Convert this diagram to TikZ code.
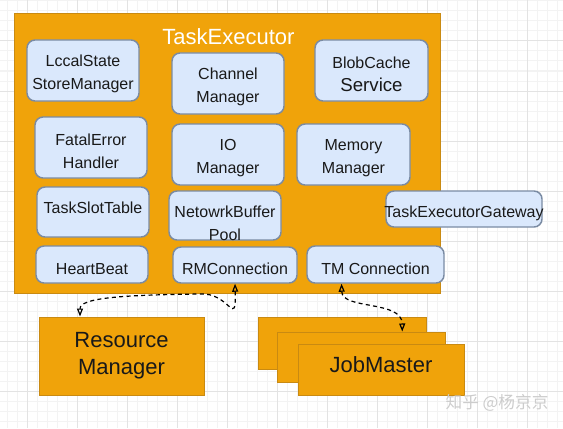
\documentclass[tikz,border=0pt]{standalone}
\usepackage{fontspec}
\setmainfont{Liberation Sans}
\newfontfamily\cjk{Noto Sans CJK SC}
\usetikzlibrary{arrows.meta,calc}

\definecolor{teorange}{HTML}{F0A30A}
\definecolor{teorangeline}{HTML}{C98A12}
\definecolor{compfill}{HTML}{DAE8FC}
\definecolor{compline}{HTML}{7A8BA3}
\definecolor{gridminor}{HTML}{F3F3F3}
\definecolor{gridmajor}{HTML}{E3E3E3}

\begin{document}
\begin{tikzpicture}[x=0.75pt, y=-0.75pt,
  boxsize/.style 2 args={minimum width=#1*0.75pt, minimum height=#2*0.75pt},
  component/.style={draw=compline, fill=compfill, line width=1.1pt, rounded corners=6pt,
    inner sep=0pt, align=center, font=\fontsize{12}{17}\selectfont, text=black!90},
  twolines/.style={text height=31pt},
  textdown/.style={text height=14.5pt},
  textup/.style={text depth=#1},
  orangebox/.style={draw=teorangeline, fill=teorange, line width=0.75pt, inner sep=0pt,
    align=center, font=\fontsize{16.5}{20}\selectfont, text=black!90},
  link/.style={line width=0.9pt, dash pattern=on 3pt off 2.5pt,
    {Triangle[open,length=6pt,width=4.5pt]}-{Triangle[open,length=6pt,width=4.5pt]}}]

\useasboundingbox (0,0) rectangle (563,428);

% background grid
\foreach \gx in {7,17,...,557}
  \draw[gridminor, line width=0.75pt] (\gx,0) -- (\gx,428);
\foreach \gy in {1,11,...,421}
  \draw[gridminor, line width=0.75pt] (0,\gy) -- (563,\gy);
\foreach \gx in {27,77,...,527}
  \draw[gridmajor, line width=0.75pt] (\gx,0) -- (\gx,428);
\foreach \gy in {41,91,...,391}
  \draw[gridmajor, line width=0.75pt] (0,\gy) -- (563,\gy);

% task executor
\node[orangebox, boxsize={426}{279}] (executor) at (227,153.5) {};
\node[text=white, font=\fontsize{16.5}{20}\selectfont] (executor-title) at (228.5,37) {TaskExecutor};

\node[component, twolines, boxsize={112}{61}] (state-mgr) at (83,70.5) {LccalState\\StoreManager};
\node[component, twolines, boxsize={112}{61}] (channel-mgr) at (228,83.5) {Channel\\Manager};
\node[component, twolines, boxsize={113}{61}] (blob-svc) at (371.5,70.5) {BlobCache\\{\fontsize{14}{17}\selectfont Service}};

\node[component, twolines, boxsize={112}{61}] (fatal-handler) at (91,147.5) {FatalError\\Handler};
\node[component, twolines, boxsize={112}{61}] (io-mgr) at (228,154.5) {IO\\Manager};
\node[component, twolines, boxsize={113}{61}] (memory-mgr) at (353.5,154.5) {Memory\\Manager};

\node[component, textup=6pt, boxsize={112}{50}] (slot-table) at (93,212) {TaskSlotTable};
\node[component, boxsize={112}{49}] (buffer-pool) at (225,215.5) {};
\node[align=center, inner sep=0pt, font=\fontsize{12}{17}\selectfont, text=black!90]
  (buffer-pool-text) at (225,223.5) {NetowrkBuffer\\Pool};
\node[component, textdown, boxsize={156}{36}] (gateway) at (464,209) {\makebox[0pt]{TaskExecutorGateway}};

\node[component, textdown, boxsize={112}{37}] (heartbeat) at (92,264.5) {HeartBeat};
\node[component, textdown, boxsize={124}{36}] (rm-conn) at (235,265) {RMConnection};
\node[component, textdown, boxsize={137}{37}] (tm-conn) at (375.5,264.5) {TM Connection};

% outside
\node[orangebox, boxsize={165}{78}] (resource-mgr) at (121.5,356) {Resource\\Manager};

\node[orangebox, boxsize={168}{52}] (jobmaster-1) at (342,343) {};
\node[orangebox, boxsize={168}{50}] (jobmaster-2) at (361,357) {};
\node[orangebox, textup=7.5pt, boxsize={166}{51}] (jobmaster-3) at (381,369.5) {JobMaster};

\draw[link] (rm-conn.south) .. controls (236,330) and (230,292) .. (200,294)
  .. controls (120,295) and (80,298) .. ($(resource-mgr.north west)!.25!(resource-mgr.north east)$);

\draw[link] ($(tm-conn.south west)!.255!(tm-conn.south east)$) .. controls (342,310) and (402,300)
  .. ($(jobmaster-2.north west)!.744!(jobmaster-2.north east)$);

\node[text=black!20, font=\cjk\fontsize{12.5}{14}\selectfont] (watermark) at (497,403) {知乎 @杨京京};

\end{tikzpicture}
\end{document}
